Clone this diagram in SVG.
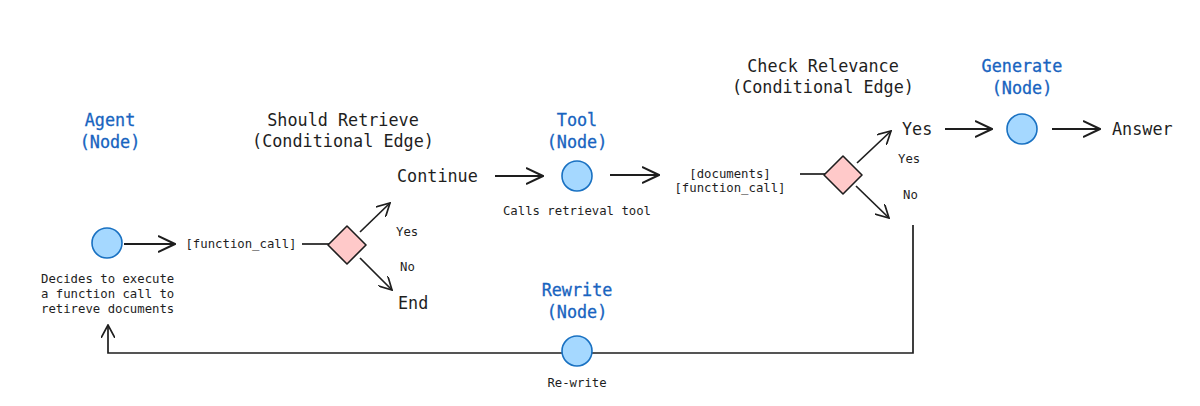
<svg xmlns="http://www.w3.org/2000/svg" width="1200" height="406" viewBox="0 0 1200 406">
<defs>
<marker id="ah" viewBox="0 0 14 14" refX="13" refY="7" markerWidth="14" markerHeight="14" markerUnits="userSpaceOnUse" orient="auto">
<path d="M0,0 L13,7 L0,14" fill="none" stroke="#1e1e1e" stroke-width="1.7"/>
</marker>
<marker id="ahb" viewBox="0 0 18 18" refX="17" refY="9" markerWidth="18" markerHeight="18" markerUnits="userSpaceOnUse" orient="auto">
<path d="M0,1 L17,9 L0,17" fill="none" stroke="#1e1e1e" stroke-width="2"/>
</marker>
</defs>
<style>
text{font-family:"DejaVu Sans Mono","Liberation Mono",monospace;fill:#1e1e1e}
.t{font-size:16.8px}
.s{font-size:12.3px}
.b{font-size:16.8px;fill:#1864c0;stroke:#1864c0;stroke-width:0.3}
.c{fill:#a5d8ff;stroke:#1971c2;stroke-width:1.6}
.d{fill:#ffc9c9;stroke:#1e1e1e;stroke-width:1.6;stroke-linejoin:round}
.l{fill:none;stroke:#1e1e1e;stroke-width:1.7}
.lb{fill:none;stroke:#1e1e1e;stroke-width:2.1}
</style>
<rect width="1200" height="406" fill="#ffffff"/>

<g id="connectors">
<line class="lb" x1="124" y1="244" x2="175" y2="244" stroke-width="2.8" marker-end="url(#ahb)"/>
<line class="l" x1="302" y1="244" x2="329" y2="244"/>
<line class="l" x1="360" y1="232" x2="390" y2="203" marker-end="url(#ah)"/>
<line class="l" x1="360" y1="258" x2="392" y2="290" marker-end="url(#ah)"/>
<line class="lb" x1="495" y1="176" x2="543" y2="176" marker-end="url(#ahb)"/>
<line class="lb" x1="610" y1="175" x2="659" y2="175" marker-end="url(#ahb)"/>
<line class="l" x1="800" y1="174" x2="826" y2="174"/>
<line class="l" x1="857" y1="163" x2="891" y2="131" marker-end="url(#ah)"/>
<line class="l" x1="856" y1="186" x2="889" y2="218" marker-end="url(#ah)"/>
<line class="lb" x1="945" y1="129" x2="992" y2="129" marker-end="url(#ahb)"/>
<line class="lb" x1="1052" y1="129" x2="1100" y2="129" marker-end="url(#ahb)"/>
<polyline class="l" points="913,225 913,353 108,353 108,325" marker-end="url(#ah)"/>
</g>

<g id="agent">
<text class="b" x="110" y="126" text-anchor="middle">Agent</text>
<text class="b" x="110" y="148" text-anchor="middle">(Node)</text>
<circle class="c" cx="107" cy="243" r="15"/>
<text class="s" x="41" y="283">Decides to execute</text>
<text class="s" x="41" y="298">a function call to</text>
<text class="s" x="41" y="313">retireve documents</text>
</g>

<g id="function-call-label">
<text class="s" x="241" y="248" text-anchor="middle">[function_call]</text>
</g>

<g id="should-retrieve">
<text class="t" x="343" y="126" text-anchor="middle">Should Retrieve</text>
<text class="t" x="343" y="147" text-anchor="middle">(Conditional Edge)</text>
<path class="d" d="M347,226 L366,245 L347,264 L328,245 Z"/>
<text class="s" x="396" y="236">Yes</text>
<text class="s" x="400" y="271">No</text>
</g>

<g id="continue">
<text class="t" x="397" y="182">Continue</text>
</g>

<g id="end">
<text class="t" x="398" y="309">End</text>
</g>

<g id="tool">
<text class="b" x="577" y="126" text-anchor="middle">Tool</text>
<text class="b" x="577" y="148" text-anchor="middle">(Node)</text>
<circle class="c" cx="577" cy="176" r="15"/>
<text class="s" x="577" y="215" text-anchor="middle">Calls retrieval tool</text>
</g>

<g id="documents-label">
<text class="s" x="730" y="178" text-anchor="middle">[documents]</text>
<text class="s" x="730" y="192" text-anchor="middle">[function_call]</text>
</g>

<g id="check-relevance">
<text class="t" x="823" y="72" text-anchor="middle">Check Relevance</text>
<text class="t" x="823" y="93" text-anchor="middle">(Conditional Edge)</text>
<path class="d" d="M843,156 L862,175 L843,194 L824,175 Z"/>
<text class="s" x="898" y="163">Yes</text>
<text class="s" x="903" y="199">No</text>
</g>

<g id="yes">
<text class="t" x="902" y="135">Yes</text>
</g>

<g id="generate">
<text class="b" x="1022" y="72" text-anchor="middle">Generate</text>
<text class="b" x="1022" y="94" text-anchor="middle">(Node)</text>
<circle class="c" cx="1022" cy="129" r="15"/>
</g>

<g id="answer">
<text class="t" x="1112" y="135">Answer</text>
</g>

<g id="rewrite">
<text class="b" x="577" y="296" text-anchor="middle">Rewrite</text>
<text class="b" x="577" y="318" text-anchor="middle">(Node)</text>
<circle class="c" cx="577" cy="351" r="15"/>
<text class="s" x="577" y="387" text-anchor="middle">Re-write</text>
</g>
</svg>
